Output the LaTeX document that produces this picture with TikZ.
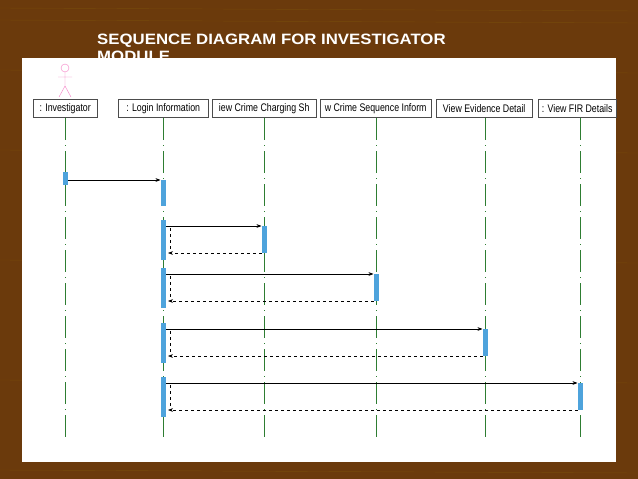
\documentclass[tikz,border=0pt]{standalone}
\usepackage{fontspec}
\setmainfont{Liberation Sans}
\newfontfamily\narrowf[FakeStretch=0.8]{Liberation Sans}
\newfontfamily\widef[FakeStretch=1.12]{Liberation Sans}
\usetikzlibrary{arrows.meta}
\definecolor{wood}{HTML}{6B3A0C}
\definecolor{act}{HTML}{4EA3DC}
\definecolor{life}{HTML}{2E7D32}
\begin{document}
\begin{tikzpicture}[x=1pt,y=-1pt,
  hdr/.style={draw=black!70,fill=white,minimum height=18pt,inner sep=0.5pt,font=\narrowf\fontsize{11}{11}\selectfont,anchor=north west},
  lifel/.style={life,dash pattern=on 22pt off 5pt on 1pt off 5pt,line width=0.6pt},
  msg/.style={-{Stealth[length=5pt]},line width=0.7pt},
  ret/.style={-{Stealth[length=5pt]},dashed,line width=0.7pt}]
\useasboundingbox (0,0) rectangle (638,479);
\fill[wood] (0,0) rectangle (638,479);
\foreach \y in {8,20,70,150,260,380,470}{\draw[wood!80!yellow,line width=0.4pt,opacity=0.4] (0,\y) -- (638,\y+3);}
\node[anchor=north west,text=white,font=\widef\bfseries\fontsize{15}{17}\selectfont,align=left,inner sep=0] (title) at (97,34) {SEQUENCE DIAGRAM FOR INVESTIGATOR\\MODULE};
\fill[white] (22,58) rectangle (616,462);
% actor
\draw[magenta!50] (65,68) circle (4);
\draw[magenta!50] (65,72) -- (65,86) (58,77) -- (72,77) (65,86) -- (59,97) (65,86) -- (71,97);
% headers
\node[hdr,minimum width=64pt] (h1) at (33,99) {: Investigator};
\node[hdr,minimum width=90pt] (h2) at (118,99) {: Login Information};
\node[hdr,minimum width=104pt] (h3) at (212,99) {iew Crime Charging Sh};
\node[hdr,minimum width=111pt] (h4) at (320,99) {w Crime Sequence Inform};
\node[hdr,minimum width=96pt] (h5) at (436,99) {View Evidence Detail};
\node[hdr,minimum width=78pt] (h6) at (538,99) {: View FIR Details};
\foreach \x in {65,163,264,376,485,580}{\draw[lifel] (\x,118) -- (\x,440);}
% activations
\fill[act] (62.5,172) rectangle (67.5,185);
\fill[act] (160.5,180) rectangle (166,206);
\coordinate (i0) at (67.5,180); \coordinate (l0) at (160.5,180);
\draw[msg] (i0) -- (l0);
\foreach \t/\x in {220/264,268/376,323/485,377/580}{
  \fill[act] (160.5,\t) rectangle (166,\t+40);
  \fill[act] (\x-2.5,\t+6) rectangle (\x+2.5,\t+33);
  \draw[msg] (166,\t+6) -- (\x-2.5,\t+6);
  \draw[ret] (\x-2.5,\t+33) -- (168,\t+33);
  \draw[dashed,line width=0.6pt] (166,\t+6) -- (170,\t+6) -- (170,\t+33);
}
\end{tikzpicture}
\end{document}
